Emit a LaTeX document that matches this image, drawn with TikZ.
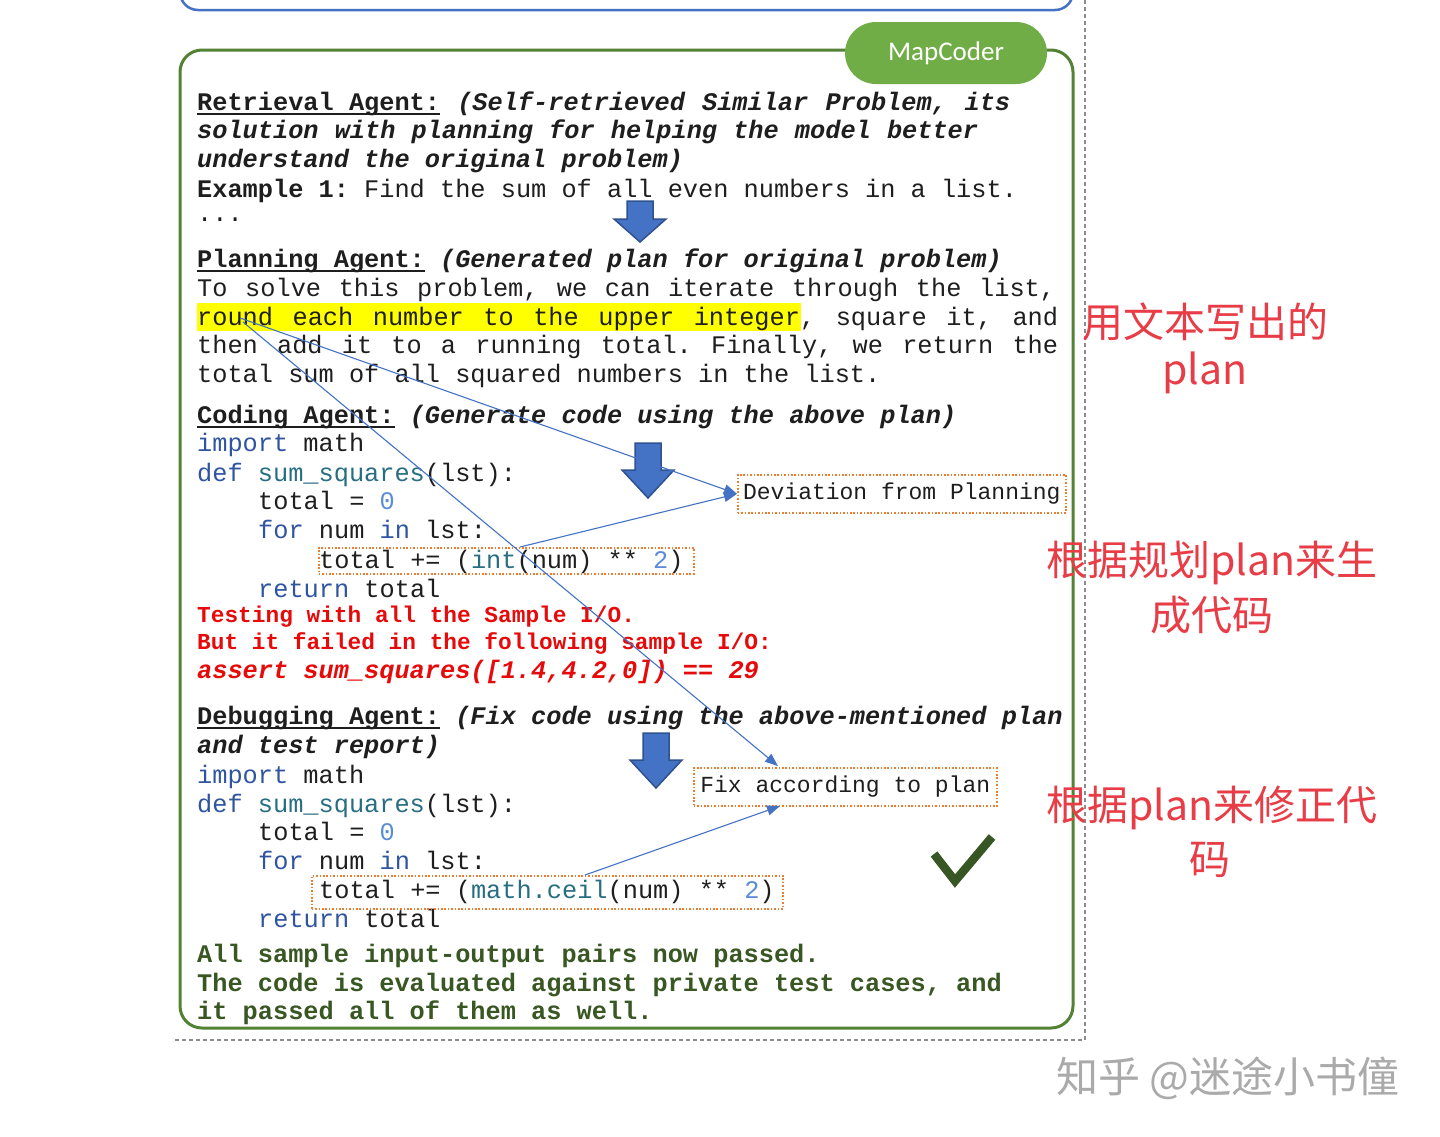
\documentclass[tikz,border=0pt]{standalone}
\usepackage{fontspec}
\setmainfont{Liberation Serif}
\setmonofont{Liberation Mono}
\newfontfamily\cjkf{Noto Sans CJK SC}
\newfontfamily\calf{Carlito}
\usetikzlibrary{arrows.meta}
\definecolor{gbox}{RGB}{84,130,53}
\definecolor{gbadge}{RGB}{112,173,71}
\definecolor{bluebox}{RGB}{68,114,196}
\definecolor{barrowfill}{RGB}{68,114,196}
\definecolor{barrowline}{RGB}{47,82,143}
\definecolor{obox}{RGB}{237,125,49}
\definecolor{kw}{RGB}{47,84,160}
\definecolor{fn}{RGB}{40,110,130}
\definecolor{num}{RGB}{90,140,215}
\definecolor{txt}{RGB}{30,30,30}
\definecolor{redt}{RGB}{230,10,10}
\definecolor{greent}{RGB}{56,87,35}
\definecolor{chk}{RGB}{55,86,35}
\definecolor{cnred}{RGB}{232,60,70}
\definecolor{wmark}{RGB}{170,170,170}
\definecolor{connc}{RGB}{68,114,196}
\definecolor{dashg}{RGB}{140,140,140}
\definecolor{hly}{RGB}{255,255,0}
\newcommand\jl[2]{\hbox to #1{\spaceskip=0.6em plus 1fil\relax\xspaceskip=\spaceskip #2}}
\newcommand\ulx[1]{\setbox0\hbox{#1}\rlap{\rule[-4.5pt]{\wd0}{1.8pt}}\box0}
\tikzset{
  ln/.style={anchor=base west, inner sep=0pt, font={\fontsize{25.3}{29}\selectfont\ttfamily}, text=txt},
  lnsm/.style={anchor=base west, inner sep=0pt, font={\fontsize{22.8}{27}\selectfont\ttfamily}, text=txt},
  obx/.style={draw=obox, line width=1.6pt, dash pattern=on 1.6pt off 1.8pt, inner sep=0pt, anchor=north west},
  conn/.style={draw=connc, line width=1.1pt, -{Triangle[length=13pt,width=10pt]}},
  barrow/.style={fill=barrowfill, draw=barrowline, line width=1.5pt, line join=miter},
  cnmain/.style={font={\fontsize{41}{41}\selectfont\cjkf}, text=cnred, inner sep=0pt},
}
\begin{document}
\begin{tikzpicture}[x=1pt,y=-1pt]
\useasboundingbox (0,0) rectangle (1440,1136);
\clip (0,0) rectangle (1440,1136);
\fill[white] (0,0) rectangle (1440,1136);

% top (cut) blue box
\draw[bluebox, line width=2.5pt, rounded corners=18pt] (180,-60) rectangle (1073,10);
% gray dashed frame
\draw[dashg, line width=1.5pt, dash pattern=on 4pt off 3pt] (1085,0) -- (1085,1040) -- (175,1040);
% green container
\draw[gbox, line width=3pt, rounded corners=22pt] (180,50) rectangle (1073,1028);
\node[fill=gbadge, rounded corners=31pt, minimum width=202pt, minimum height=62pt, inner sep=0pt,
      text=white, font={\fontsize{27}{27}\selectfont\calf}] (badge) at (946,53) {MapCoder};

% highlight
\fill[hly] (197,303) rectangle (801,331);

% Retrieval
\node[ln] (l1) at (197,110) {\jl{813pt}{\textbf{\ulx{Retrieval Agent:}} \textbf{\textit{(Self-retrieved Similar Problem, its}}}};
\node[ln] (l2) at (197,138) {\jl{781pt}{\textbf{\textit{solution with planning for helping the model better}}}};
\node[ln] (l3) at (197,167) {\textbf{\textit{understand the original problem)}}};
\node[ln] (l4) at (197,197) {\textbf{Example 1:} Find the sum of all even numbers in a list.};
\node[ln] (l5) at (197,221) {...};

% Planning
\node[ln] (p0) at (197,267) {\textbf{\ulx{Planning Agent:}} \textbf{\textit{(Generated plan for original problem)}}};
\node[ln] (p1) at (197,296) {\jl{858pt}{To solve this problem, we can iterate through the list,}};
\node[ln] (p2) at (197,325) {\jl{861pt}{round each number to the upper integer, square it, and}};
\node[ln] (p3) at (197,353) {\jl{861pt}{then add it to a running total. Finally, we return the}};
\node[ln] (p4) at (197,382) {total sum of all squared numbers in the list.};

% Coding
\node[ln] (c0) at (197,423) {\textbf{\ulx{Coding Agent:}} \textbf{\textit{(Generate code using the above plan)}}};
\node[ln] (c1) at (197,451) {\textcolor{kw}{import} math};
\node[ln] (c2) at (197,481) {\textcolor{kw}{def} \textcolor{fn}{sum\_squares}(lst):};
\node[ln] (c3) at (258,509) {total = \textcolor{num}{0}};
\node[ln] (c4) at (258,538) {\textcolor{kw}{for} num \textcolor{kw}{in} lst:};
\node[ln] (c5) at (319,568) {total += (\textcolor{fn}{int}(num) ** \textcolor{num}{2})};
\node[ln] (c6) at (258,597) {\textcolor{kw}{return} total};

% test report
\node[lnsm, text=redt] (t1) at (197,622) {\textbf{Testing with all the Sample I/O.}};
\node[lnsm, text=redt] (t2) at (197,649) {\textbf{But it failed in the following sample I/O:}};
\node[ln, text=redt] (t3) at (197,678) {\textbf{\textit{assert sum\_squares([1.4,4.2,0]) == 29}}};

% Debugging
\node[ln] (d0) at (197,724) {\textbf{\ulx{Debugging Agent:}} \textbf{\textit{(Fix code using the above-mentioned plan}}};
\node[ln] (d0b) at (197,753) {\textbf{\textit{and test report)}}};
\node[ln] (d1) at (197,783) {\textcolor{kw}{import} math};
\node[ln] (d2) at (197,812) {\textcolor{kw}{def} \textcolor{fn}{sum\_squares}(lst):};
\node[ln] (d3) at (258,840) {total = \textcolor{num}{0}};
\node[ln] (d4) at (258,869) {\textcolor{kw}{for} num \textcolor{kw}{in} lst:};
\node[ln] (d5) at (319,898) {total += (\textcolor{fn}{math.ceil}(num) ** \textcolor{num}{2})};
\node[ln] (d6) at (258,927) {\textcolor{kw}{return} total};

% final
\node[ln, text=greent] (g1) at (197,962) {\textbf{All sample input-output pairs now passed.}};
\node[ln, text=greent] (g2) at (197,991) {\textbf{The code is evaluated against private test cases, and}};
\node[ln, text=greent] (g3) at (197,1019) {\textbf{it passed all of them as well.}};

% block arrows
\draw[barrow] (627,201) -- (653,201) -- (653,219) -- (666,219) -- (640,242) -- (614,219) -- (627,219) -- cycle;
\draw[barrow] (635,443) -- (661,443) -- (661,470) -- (674,470) -- (648,498) -- (622,470) -- (635,470) -- cycle;
\draw[barrow] (643,733) -- (669,733) -- (669,760) -- (682,760) -- (656,788) -- (630,760) -- (643,760) -- cycle;

% dotted boxes
\node[obx, minimum width=328pt, minimum height=38pt, text=txt, font={\fontsize{23}{23}\selectfont\ttfamily}] (dev) at (737,474) {Deviation from Planning};
\node[obx, minimum width=303pt, minimum height=38pt, text=txt, font={\fontsize{23}{23}\selectfont\ttfamily}] (fix) at (693,767) {Fix according to plan};
\node[obx, minimum width=375pt, minimum height=26pt] (intb) at (318,547) {};
\node[obx, minimum width=471pt, minimum height=33pt] (ceilb) at (311,875) {};

% connectors
\coordinate (r1) at (240,318);
\coordinate (r2) at (243,322);
\coordinate (fixin) at (778,766);
\coordinate (fixout) at (780,806);
\coordinate (intt) at (520,547);
\coordinate (ceilt) at (585,875);
\draw[conn] (r1) -- (dev.west);
\draw[conn] (r2) -- (fixin);
\draw[conn] (intt) -- (dev.west);
\draw[conn] (ceilt) -- (fixout);

% check mark
\draw[chk, line width=8.5pt, line join=miter] (934,854) -- (955,881) -- (992,837);

% Chinese annotations
\node[cnmain] (a1) at (1205,322) {用文本写出的};
\node[cnmain] (a2) at (1205,373) {plan};
\node[cnmain] (b1) at (1212,563) {根据规划plan来生};
\node[cnmain] (b2) at (1212,615) {成代码};
\node[cnmain] (c1n) at (1212,808) {根据plan来修正代};
\node[cnmain] (c2n) at (1210,860) {码};

% watermark
\node[font={\fontsize{42}{42}\selectfont\cjkf}, text=wmark, inner sep=0pt] (wm) at (1228,1078) {知乎 @迷途小书僮};
\end{tikzpicture}
\end{document}
